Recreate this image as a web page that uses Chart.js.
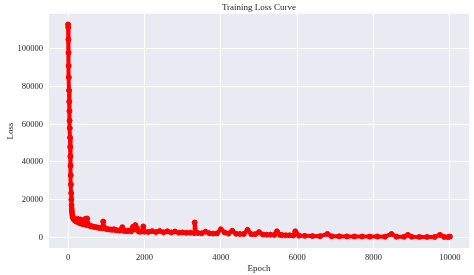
<!DOCTYPE html>
<html lang="en">
<head>
    <meta charset="UTF-8">
    <title>Training Loss Curve</title>
    <script src="https://cdn.jsdelivr.net/npm/chart.js"></script>
    <style>
        body { margin: 0; background: #ffffff; }
        .chart-box { width: 474px; height: 275px; }
    </style>
</head>
<body>
    <div class="chart-box">
        <canvas id="lossChart"></canvas>
    </div>

    <script>
        // Loss values
        const epochs = [0, 4, 8, 12, 16, 20, 25, 30, 35, 40, 45, 50, 55, 60, 65, 70, 75, 80, 85, 90, 95, 100,
            110, 120, 130, 150, 175, 200, 225, 250, 275, 300, 325, 350, 375, 400, 425, 450, 475, 500, 525, 550,
            575, 600, 650, 700, 750, 800, 850, 900, 920, 950, 1000, 1050, 1100, 1150, 1200, 1250, 1300, 1350,
            1400, 1420, 1450, 1500, 1550, 1600, 1650, 1700, 1750, 1760, 1800, 1850, 1900, 1950, 1970, 2000,
            2100, 2200, 2300, 2400, 2500, 2600, 2700, 2800, 2900, 3000, 3100, 3200, 3300, 3316, 3350, 3400,
            3500, 3600, 3700, 3800, 3900, 4000, 4100, 4200, 4300, 4400, 4500, 4600, 4700, 4800, 4900, 5000,
            5100, 5200, 5300, 5400, 5470, 5550, 5600, 5700, 5800, 5900, 5950, 6050, 6200, 6400, 6600, 6790,
            6900, 7100, 7300, 7500, 7700, 7900, 8100, 8300, 8470, 8600, 8800, 8900, 9000, 9200, 9400, 9600,
            9740, 9850, 9950, 10000];
        const loss = [113000, 111500, 105000, 98000, 91000, 85000, 78000, 72000, 67000, 62000, 58000, 53000,
            48000, 43000, 38000, 33000, 28000, 23500, 20000, 17000, 15000, 13500,
            12000, 11000, 10200, 9500, 9000, 8600, 8300, 9800, 8000, 7600, 9500, 7300, 7100, 8200, 6900, 9800,
            6600, 10000, 7000, 6300, 6100, 6000, 5700, 5500, 5300, 5100, 4900, 4800, 8400, 5200, 4500, 4300,
            4200, 4000, 4300, 3800, 3700, 3600, 3900, 5400, 3500, 3400, 3300, 3600, 3200, 5600, 4200, 6500,
            5000, 3100, 3000, 3300, 5800, 3000, 2900, 3300, 2800, 3400, 2700, 3200, 2600, 3100, 2500, 2600,
            2400, 2500, 2300, 7900, 2600, 2300, 2200, 3000, 2200, 2000, 2100, 4300, 2600, 2000, 3500, 1900,
            1800, 1800, 4000, 1700, 1700, 2800, 1500, 1400, 1400, 1300, 3200, 1300, 1200, 1100, 1100, 1000,
            3200, 900, 800, 700, 650, 1800, 600, 550, 500, 450, 450, 400, 450, 350, 1800, 350, 300, 1300, 300,
            250, 250, 200, 1300, 200, 150, 400];
        const xTicks = [0, 2000, 4000, 6000, 8000, 10000];
        const yTicks = [0, 20000, 40000, 60000, 80000, 100000];

        const serif = "'Liberation Serif', 'DejaVu Serif', serif";
        const textColor = '#262626';

        // Fill the plot area with the seaborn grey before anything else is drawn
        const plotBackground = {
            id: 'plotBackground',
            beforeDraw(chart) {
                const { ctx, chartArea } = chart;
                ctx.save();
                ctx.fillStyle = '#eaeaf2';
                ctx.fillRect(chartArea.left, chartArea.top, chartArea.right - chartArea.left, chartArea.bottom - chartArea.top);
                ctx.restore();
            }
        };

        function initializeLossChart() {
            const ctx = document.getElementById('lossChart').getContext('2d');
            new Chart(ctx, {
                type: 'line',
                data: {
                    datasets: [{
                        label: 'Loss',
                        data: epochs.map((e, i) => ({ x: e, y: loss[i] })),
                        borderColor: '#ff0000',
                        backgroundColor: '#ff0000',
                        borderWidth: 4,
                        borderJoinStyle: 'round',
                        borderCapStyle: 'round',
                        pointRadius: 2.5,
                        pointBorderWidth: 1,
                        pointHoverRadius: 2.5,
                        tension: 0
                    }]
                },
                options: {
                    responsive: true,
                    maintainAspectRatio: false,
                    animation: false,
                    layout: {
                        padding: { left: 2, right: 5, top: 0, bottom: 0 }
                    },
                    plugins: {
                        legend: { display: false },
                        tooltip: { enabled: false },
                        title: {
                            display: true,
                            fullSize: false,
                            text: 'Training Loss Curve',
                            color: textColor,
                            font: { family: serif, size: 9, weight: 'normal' },
                            padding: { top: 2, bottom: 1 }
                        }
                    },
                    scales: {
                        x: {
                            type: 'linear',
                            min: -500,
                            max: 10500,
                            afterBuildTicks: axis => { axis.ticks = xTicks.map(v => ({ value: v })); },
                            afterFit: axis => { axis.height = 27; },
                            grid: { color: '#ffffff', lineWidth: 1, drawTicks: false },
                            border: { display: false },
                            ticks: {
                                color: textColor,
                                font: { family: serif, size: 8.5 },
                                padding: 5,
                                maxRotation: 0,
                                callback: v => String(v)
                            },
                            title: {
                                display: true,
                                text: 'Epoch',
                                color: textColor,
                                font: { family: serif, size: 9 },
                                padding: { top: 0, bottom: 1 }
                            }
                        },
                        y: {
                            min: -5650,
                            max: 118650,
                            afterBuildTicks: axis => { axis.ticks = yTicks.map(v => ({ value: v })); },
                            afterFit: axis => { axis.width = 47; },
                            grid: { color: '#ffffff', lineWidth: 1, drawTicks: false },
                            border: { display: false },
                            ticks: {
                                color: textColor,
                                font: { family: serif, size: 8.5 },
                                padding: 6,
                                callback: v => String(v)
                            },
                            title: {
                                display: true,
                                text: 'Loss',
                                color: textColor,
                                font: { family: serif, size: 9 },
                                padding: { top: 3, bottom: 0 }
                            }
                        }
                    }
                },
                plugins: [plotBackground]
            });
        }

        initializeLossChart();
    </script>
</body>
</html>
